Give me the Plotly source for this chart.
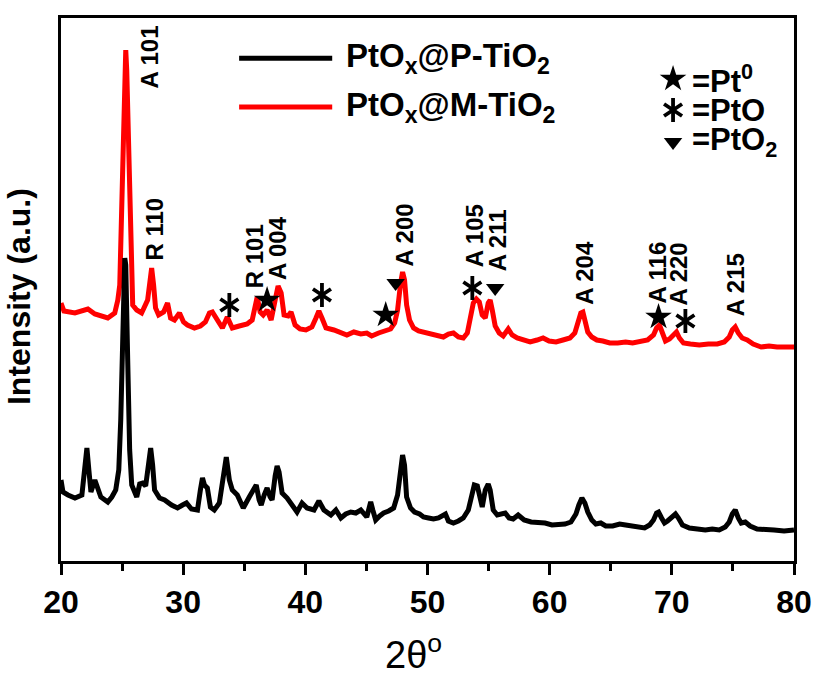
import plotly.graph_objects as go

# ---------------- data (2theta in degrees, intensity in a.u.) ----------------
theta_red = [20.00, 20.24, 21.14, 22.20, 22.77, 23.83, 24.40, 24.65, 24.81, 25.05, 25.22, 25.30, 25.38,
             25.54, 25.71, 25.87, 26.20, 26.60, 27.09, 27.26, 27.42, 27.58, 27.74, 27.99, 28.40, 28.72,
             28.97, 29.29, 29.70, 30.03, 30.35, 30.92, 31.41, 31.82, 32.15, 32.39, 32.80, 33.21, 33.61,
             34.02, 34.59, 35.24, 35.65, 35.90, 36.06, 36.30, 36.55, 36.87, 37.20, 37.53, 37.77, 38.02,
             38.26, 38.59, 38.83, 39.16, 39.56, 40.05, 40.54, 40.87, 41.11, 41.36, 41.69, 42.34, 42.91,
             43.40, 43.97, 44.54, 45.03, 45.43, 46.00, 46.49, 46.98, 47.31, 47.55, 47.80, 47.96, 48.12,
             48.29, 48.53, 48.86, 49.27, 49.67, 50.08, 50.49, 50.90, 51.30, 51.71, 52.12, 52.53, 52.93,
             53.26, 53.51, 53.75, 54.00, 54.24, 54.48, 54.73, 54.97, 55.13, 55.30, 55.54, 55.87, 56.20,
             56.61, 56.93, 57.34, 57.83, 58.40, 58.97, 59.46, 59.95, 60.52, 61.09, 61.66, 62.06, 62.31,
             62.55, 62.72, 62.88, 63.12, 63.45, 63.86, 64.35, 64.92, 65.57, 66.22, 66.79, 67.44, 68.02,
             68.50, 68.75, 68.99, 69.24, 69.48, 69.81, 70.13, 70.38, 70.62, 70.95, 71.52, 72.25, 72.99,
             73.72, 74.29, 74.70, 74.95, 75.19, 75.44, 75.76, 76.17, 76.66, 77.31, 77.96, 78.61, 79.27,
             80.00]
int_red = [258, 250, 248, 252, 247, 243, 248, 261, 276, 411, 491, 511, 491,
           411, 301, 256, 251, 248, 261, 281, 293, 276, 253, 246, 249, 258,
           243, 241, 248, 239, 236, 233, 235, 239, 248, 249, 241, 233, 244,
           233, 235, 237, 241, 258, 264, 249, 246, 251, 241, 261, 275, 268,
           246, 245, 249, 236, 232, 231, 234, 243, 250, 243, 233, 231, 228,
           226, 229, 227, 228, 225, 228, 230, 232, 238, 251, 278, 289, 281,
           256, 241, 233, 230, 229, 227, 226, 225, 224, 227, 228, 224, 223,
           228, 246, 258, 262, 259, 246, 243, 258, 261, 251, 235, 228, 225,
           232, 226, 223, 221, 219, 221, 223, 220, 219, 221, 223, 228, 239,
           248, 249, 241, 229, 224, 221, 220, 218, 218, 219, 218, 220, 221,
           226, 233, 236, 228, 220, 222, 227, 229, 223, 218, 217, 216, 217,
           217, 219, 224, 231, 234, 228, 223, 221, 217, 214, 215, 214, 214,
           214]

theta_black = [20.00, 20.16, 20.57, 21.14, 21.71, 21.96, 22.12, 22.28, 22.45, 22.77, 23.02, 23.26, 23.83,
               24.16, 24.48, 24.73, 24.89, 25.05, 25.22, 25.30, 25.46, 25.62, 25.79, 26.20, 26.44, 26.68,
               26.93, 27.17, 27.34, 27.50, 27.66, 28.07, 28.48, 29.05, 29.54, 29.95, 30.27, 30.68, 31.17,
               31.41, 31.58, 31.74, 31.98, 32.23, 32.55, 32.96, 33.29, 33.53, 33.78, 34.02, 34.43, 34.92,
               35.41, 35.73, 35.98, 36.22, 36.39, 36.63, 36.87, 37.12, 37.28, 37.53, 37.69, 37.85, 38.10,
               38.51, 38.91, 39.32, 39.73, 40.14, 40.71, 41.11, 41.52, 42.09, 42.50, 42.91, 43.31, 43.72,
               44.13, 44.54, 45.03, 45.19, 45.35, 45.52, 45.76, 46.09, 46.41, 46.82, 47.23, 47.55, 47.80,
               47.96, 48.12, 48.29, 48.61, 48.94, 49.35, 49.67, 50.08, 50.49, 50.90, 51.30, 51.47, 51.71,
               52.12, 52.53, 52.93, 53.34, 53.59, 53.83, 54.08, 54.32, 54.48, 54.73, 54.97, 55.13, 55.38,
               55.71, 56.03, 56.36, 56.68, 57.01, 57.42, 57.91, 58.48, 59.05, 59.62, 60.19, 60.68, 61.25,
               61.74, 62.15, 62.39, 62.64, 62.88, 63.12, 63.45, 63.78, 64.18, 64.59, 65.16, 65.73, 66.22,
               66.79, 67.28, 67.77, 68.18, 68.50, 68.75, 68.91, 69.16, 69.40, 69.65, 69.97, 70.30, 70.54,
               70.87, 71.44, 72.09, 72.74, 73.31, 73.88, 74.37, 74.70, 74.95, 75.19, 75.44, 75.68, 76.01,
               76.41, 76.98, 77.64, 78.37, 79.19, 80.00]
int_black = [81, 69, 66, 63, 66, 91, 113, 91, 69, 81, 71, 64, 59,
             64, 71, 91, 141, 221, 303, 296, 201, 111, 76, 64, 77, 78,
             75, 96, 113, 96, 71, 63, 61, 56, 53, 56, 58, 52, 51,
             71, 83, 76, 73, 54, 51, 58, 81, 104, 81, 71, 66, 53,
             64, 71, 76, 61, 56, 66, 73, 64, 61, 85, 95, 89, 68,
             63, 56, 49, 58, 53, 51, 60, 51, 46, 51, 43, 47, 49,
             48, 51, 44, 51, 59, 51, 41, 45, 48, 50, 53, 66, 96,
             106, 96, 64, 53, 49, 47, 44, 43, 42, 43, 45, 47, 40,
             38, 40, 43, 51, 66, 76, 75, 61, 54, 71, 77, 71, 51,
             46, 47, 48, 43, 42, 46, 41, 39, 39, 38, 36, 36, 37,
             39, 47, 56, 63, 58, 49, 41, 37, 38, 35, 35, 37, 36,
             35, 34, 33, 36, 41, 48, 49, 43, 38, 40, 44, 47, 43,
             36, 33, 32, 31, 32, 31, 34, 39, 47, 51, 43, 38, 39,
             35, 32, 31, 31, 30, 31]

# peak labels
label_text = ["A 101", "R 110", "R 101", "A 004", "A 200", "A 105", "A 211",
              "A 204", "A 116", "A 220", "A 215"]
label_theta = [27.17, 27.58, 35.82, 37.69, 48.04, 53.83, 55.71, 62.80, 68.75, 70.54, 75.19]
label_int = [504, 332, 305, 313, 326, 325, 321, 288, 288, 287, 276]

# phase markers
pt0_theta = [36.87, 46.58, 68.91]
pt0_int = [261, 246, 244]
pto_theta = [33.78, 41.36, 53.67, 71.11]
pto_int = [256, 266, 273, 240]
pto2_theta = [47.39, 55.54]
pto2_int = [278, 273]

# key for phase markers
key_theta = 70.1
key_text_theta = 71.45
key_int = [482, 451, 419]
key_text = ["=Pt<sup>0</sup>", "=PtO", "=PtO<sub>2</sub>"]

series_names = ["PtO<sub>x</sub>@P-TiO<sub>2</sub>", "PtO<sub>x</sub>@M-TiO<sub>2</sub>"]
series_colors = ["#000000", "#ff0000"]

x_ticks = [20, 30, 40, 50, 60, 70, 80]

FONT = "Liberation Sans, Arial, sans-serif"

fig = go.Figure()
fig.add_trace(go.Scatter(x=theta_red, y=int_red, mode="lines", name=series_names[1],
                         line=dict(color=series_colors[1], width=5), showlegend=False))
fig.add_trace(go.Scatter(x=theta_black, y=int_black, mode="lines", name=series_names[0],
                         line=dict(color=series_colors[0], width=5), showlegend=False))

mk_line = dict(color="black", width=3.8)
# Pt0 stars
fig.add_trace(go.Scatter(x=pt0_theta + [key_theta], y=pt0_int + [key_int[0]], mode="markers",
                         marker=dict(symbol="star", size=20, color="black", line=dict(width=0)),
                         showlegend=False))
# PtO asterisks (6 arms: y-up + y-down)
for sym in ["y-up-open", "y-down-open"]:
    fig.add_trace(go.Scatter(x=pto_theta + [key_theta], y=pto_int + [key_int[1]], mode="markers",
                             marker=dict(symbol=sym, size=15, color="black", line=mk_line),
                             showlegend=False))
# PtO2 triangles
fig.add_trace(go.Scatter(x=pto2_theta + [key_theta], y=pto2_int + [key_int[2]], mode="markers",
                         marker=dict(symbol="triangle-down", size=16, color="black", line=dict(width=0)),
                         showlegend=False))

annotations = []
for t, xv, yv in zip(label_text, label_theta, label_int):
    annotations.append(dict(x=xv, y=yv, xref="x", yref="y", text=t, showarrow=False,
                            textangle=-90, xanchor="center", yanchor="middle",
                            font=dict(family=FONT, size=24, color="black", weight="bold")))
for t, yv in zip(key_text, key_int):
    annotations.append(dict(x=key_text_theta, y=yv, xref="x", yref="y", text=t, showarrow=False,
                            xanchor="left", yanchor="middle",
                            font=dict(family=FONT, size=31, color="black", weight="bold")))

# manual legend for the two patterns
leg_y = [0.926, 0.836]
for name, col, yy in zip(series_names, series_colors, leg_y):
    fig.add_shape(type="line", xref="paper", yref="paper", x0=0.243, x1=0.370, y0=yy, y1=yy,
                  line=dict(color=col, width=5))
    annotations.append(dict(x=0.386, y=yy, xref="paper", yref="paper", text=name, showarrow=False,
                            xanchor="left", yanchor="middle",
                            font=dict(family=FONT, size=33, color="black", weight="bold")))

# axis titles
annotations.append(dict(x=0.481, y=-0.168, xref="paper", yref="paper", text="2θ<sup>o</sup>",
                        showarrow=False, xanchor="center", yanchor="middle",
                        font=dict(family=FONT, size=38, color="black")))
annotations.append(dict(x=-0.058, y=0.487, xref="paper", yref="paper", text="Intensity (a.u.)",
                        showarrow=False, textangle=-90, xanchor="center", yanchor="middle",
                        font=dict(family=FONT, size=32, color="black", weight="bold")))

fig.update_layout(
    width=824, height=676,
    margin=dict(l=61, r=27, t=18, b=115),
    paper_bgcolor="white", plot_bgcolor="white",
    annotations=annotations,
    xaxis=dict(range=[20, 80], tickvals=x_ticks, ticktext=[str(v) for v in x_ticks],
               ticks="outside", ticklen=11, tickwidth=3, tickcolor="black",
               minor=dict(dtick=5, tick0=25, ticks="outside", ticklen=7, tickwidth=3, tickcolor="black"),
               showline=True, linewidth=3, linecolor="black", mirror=True,
               showgrid=False, zeroline=False,
               tickfont=dict(family=FONT, size=32, color="black", weight="bold")),
    yaxis=dict(range=[0, 543], showticklabels=False, ticks="",
               showline=True, linewidth=3, linecolor="black", mirror=True,
               showgrid=False, zeroline=False),
)

fig.write_html("out.html")
